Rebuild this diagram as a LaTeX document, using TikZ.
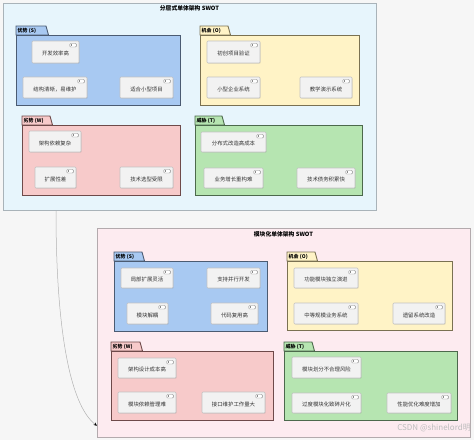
\documentclass[tikz,border=0pt]{standalone}
\usepackage{fontspec}
\setmainfont{Noto Sans CJK SC}
\usetikzlibrary{shadows,arrows.meta}
\definecolor{bgc}{HTML}{F6F6F6}
\definecolor{f1fill}{HTML}{E7F5FC}
\definecolor{f1draw}{HTML}{A9B3B9}
\definecolor{f2fill}{HTML}{FDEBF0}
\definecolor{f2draw}{HTML}{B3AAAD}
\definecolor{sfill}{HTML}{A8C9F2}
\definecolor{sdraw}{HTML}{4B5B72}
\definecolor{ofill}{HTML}{FFF3C6}
\definecolor{odraw}{HTML}{7A7152}
\definecolor{wfill}{HTML}{F7CACA}
\definecolor{wdraw}{HTML}{6E4A4A}
\definecolor{tfill}{HTML}{B6E5B1}
\definecolor{tdraw}{HTML}{4C694C}
\definecolor{cfill}{HTML}{F2F2F2}
\definecolor{cdraw}{HTML}{C2C2C2}
\definecolor{ctext}{HTML}{333333}
\definecolor{icond}{HTML}{8A8A8A}
\definecolor{wmark}{HTML}{BDBDBD}
\tikzset{
  frame/.style={draw=#1, line width=0.8pt, inner sep=0pt, anchor=north west},
  pkgline/.style={line width=0.9pt},
  pkgbody/.style={inner sep=0pt, anchor=north west, line width=0.9pt},
  tablabel/.style={font=\fontsize{5}{6}\selectfont\bfseries, anchor=west, inner sep=0pt},
  comp/.style={draw=cdraw, fill=cfill, line width=0.6pt, rounded corners=1pt, inner sep=0pt,
    drop shadow={shadow xshift=0.8pt, shadow yshift=-0.8pt, opacity=0.15}},
  comptext/.style={font=\fontsize{5.4}{6}\selectfont, text=ctext, inner sep=0pt},
  icon/.style={draw=icond, fill=white, line width=0.45pt, rounded corners=0.8pt},
  title/.style={font=\fontsize{5.8}{7}\selectfont\bfseries, inner sep=0pt},
  conn/.style={draw=gray!60, line width=0.5pt, -{Stealth[length=3.5pt,width=3pt,black]}},
}
\newcommand\compbox[6]{%
  \node[comp, minimum width={#4-#2}, minimum height={#5-#3}] (#1) at ({(#2+#4)/2},{(#3+#5)/2}) {};
  \node[comptext] (#1t) at ([yshift=-1.8pt]#1.center) {#6};
  \draw[icon] ([xshift=-9.5pt,yshift=-2.8pt]#1.north east) rectangle ([xshift=-3pt,yshift=-6.3pt]#1.north east);
  \draw[icond, line width=0.35pt] ([xshift=-8.3pt,yshift=-3.4pt]#1.north east) -- ([xshift=-8.3pt,yshift=-5.7pt]#1.north east);
}
% name, x1, tabtop, x2, bodybottom, tabright, label, fill, draw
\newcommand\pkgbox[9]{%
  \draw[pkgline, draw=#9, fill=#8] (#2,#3+9) -- (#2,#3) -- (#6,#3) -- (#6+2.5,#3+9) -- cycle;
  \node[tablabel] (#1l) at (#2+1.5,#3+4.7) {#7};
  \node[pkgbody, draw=#9, fill=#8, minimum width={#4-#2}, minimum height={#5-#3-9}] (#1) at (#2,#3+9) {};
}
\begin{document}
\begin{tikzpicture}[x=1pt,y=-1pt]
\fill[bgc] (0,0) rectangle (474,440);
\useasboundingbox (0,0) rectangle (474,440);

% frames
\node[frame=f1draw, fill=f1fill, minimum width=373pt, minimum height=207pt] (f1) at (3,3) {};
\node[title] (f1t) at (189.5,8.5) {分层式单体架构 SWOT};
\node[frame=f2draw, fill=f2fill, minimum width=373pt, minimum height=209pt] (f2) at (97,228) {};
\node[title] (f2t) at (283.5,234) {模块化单体架构 SWOT};

% top frame packages
\pkgbox{s1}{16}{26}{180}{105}{46}{优势 (S)}{sfill}{sdraw}
\pkgbox{o1}{200}{26}{359}{105}{228}{机会 (O)}{ofill}{odraw}
\pkgbox{w1}{22}{116}{180}{195}{50}{劣势 (W)}{wfill}{wdraw}
\pkgbox{t1}{195}{116}{362}{195}{222}{威胁 (T)}{tfill}{tdraw}

\compbox{s1a}{32}{41}{79}{63}{开发效率高}
\compbox{s1b}{23}{77}{87}{98}{结构清晰，易维护}
\compbox{s1c}{120}{77}{173}{98}{适合小型项目}
\compbox{o1a}{207}{41}{260}{63}{初创项目验证}
\compbox{o1b}{207}{77}{260}{98}{小型企业系统}
\compbox{o1c}{300}{77}{352}{98}{教学演示系统}
\compbox{w1a}{29}{131}{81}{152}{架构依赖复杂}
\compbox{w1b}{35}{167}{76}{188}{扩展性差}
\compbox{w1c}{120}{167}{173}{188}{技术选型受限}
\compbox{t1a}{201}{132}{266}{152}{分布式改造高成本}
\compbox{t1b}{204}{168}{263}{188}{业务增长重构难}
\compbox{t1c}{297}{168}{355}{188}{技术债务积累快}

% bottom frame packages
\pkgbox{s2}{114}{252}{267}{331}{142}{优势 (S)}{sfill}{sdraw}
\pkgbox{o2}{287}{252}{452}{330}{315}{机会 (O)}{ofill}{odraw}
\pkgbox{w2}{111}{342}{273}{420}{140}{劣势 (W)}{wfill}{wdraw}
\pkgbox{t2}{284}{342}{457}{420}{312}{威胁 (T)}{tfill}{tdraw}

\compbox{s2a}{121}{268}{173}{288}{局部扩展灵活}
\compbox{s2b}{207}{268}{260}{288}{支持并行开发}
\compbox{s2c}{127}{303}{168}{324}{模块解耦}
\compbox{s2d}{211}{303}{258}{324}{代码复用高}
\compbox{o2a}{294}{268}{358}{288}{功能模块独立演进}
\compbox{o2b}{294}{303}{358}{324}{中等规模业务系统}
\compbox{o2c}{393}{303}{445}{324}{遗留系统改造}
\compbox{w2a}{118}{358}{176}{378}{架构设计成本高}
\compbox{w2b}{118}{392}{176}{413}{模块依赖管理难}
\compbox{w2c}{202}{392}{265}{413}{接口维护工作量大}
\compbox{t2a}{292}{357}{361}{378}{模块划分不合理风险}
\compbox{t2b}{292}{393}{361}{413}{过度模块化致碎片化}
\compbox{t2c}{387}{393}{451}{413}{性能优化难度增加}

% connector
\coordinate (cstart) at ([xshift=53pt]f1.south west);
\coordinate (cend) at ([yshift=12pt]f2.south west);
\draw[conn] (cstart) .. controls (56,330) and (70,405) .. (cend);

% watermark
\node[font=\fontsize{8}{9}\selectfont, text=wmark, anchor=east, inner sep=0pt] (wm) at (471,428) {CSDN @shinelord明};
\end{tikzpicture}
\end{document}
